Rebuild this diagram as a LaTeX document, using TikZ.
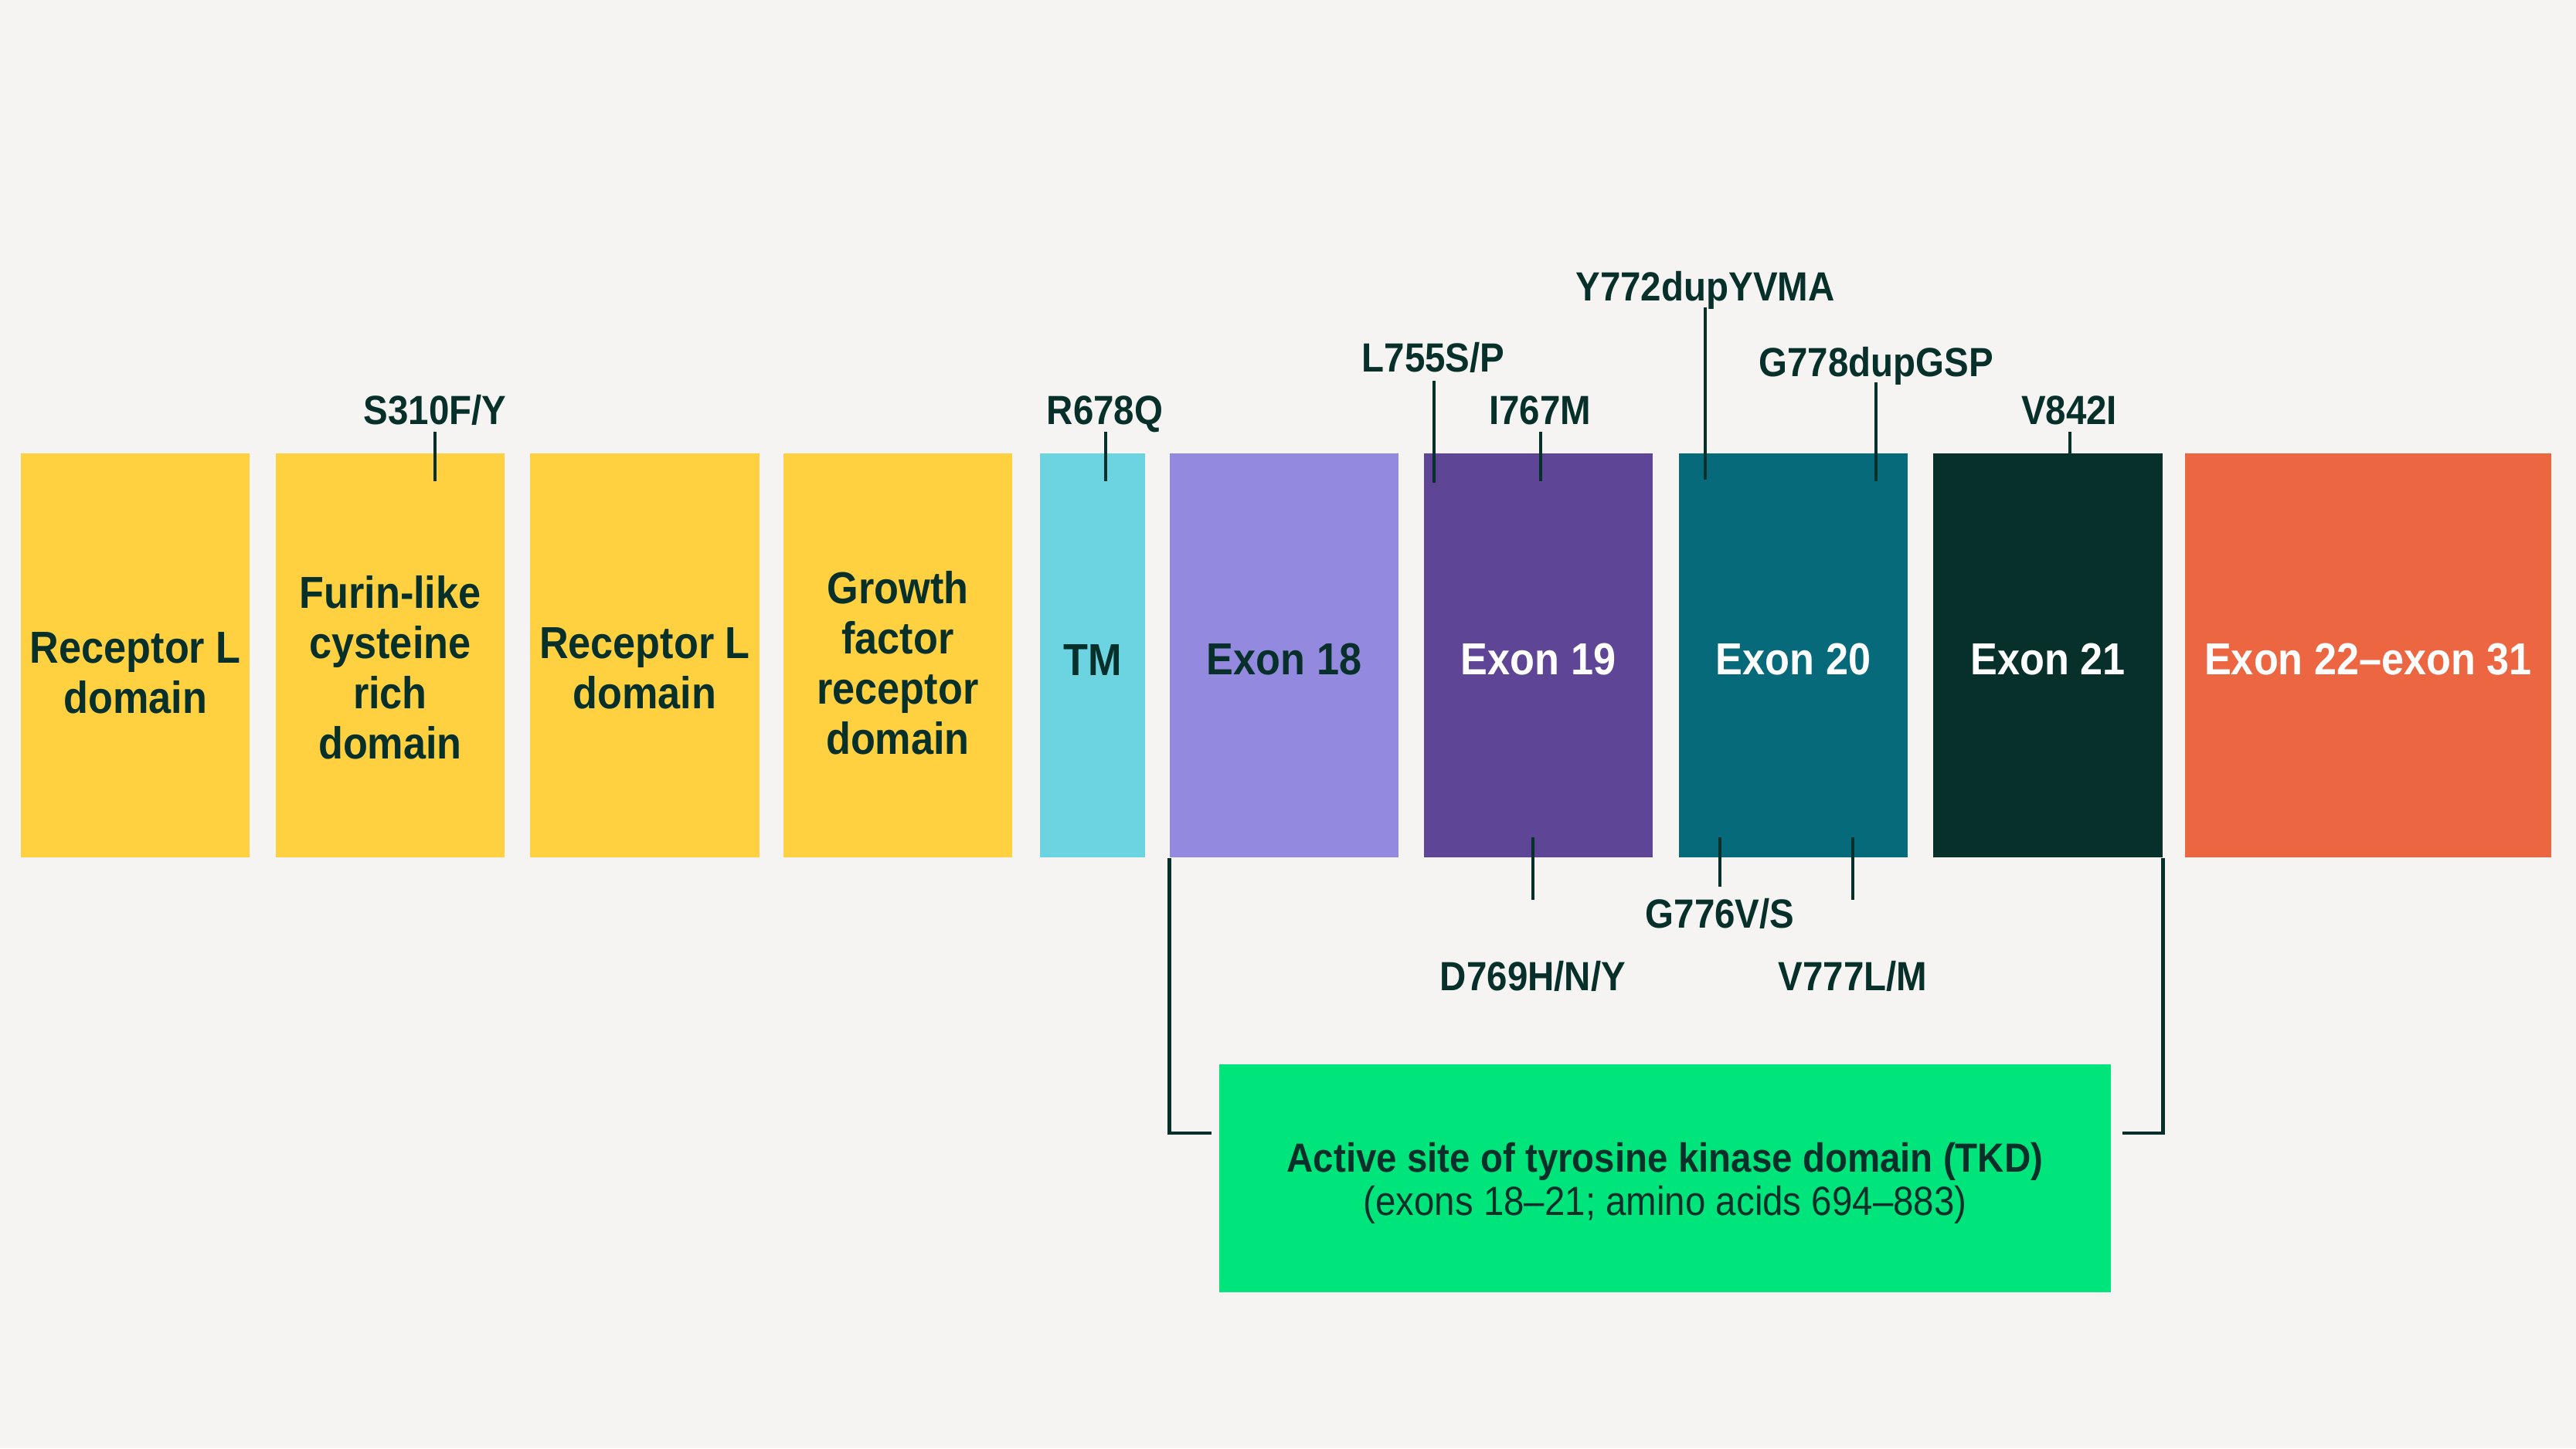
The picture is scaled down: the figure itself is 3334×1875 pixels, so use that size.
\documentclass[tikz,border=0pt]{standalone}
\usepackage{fontspec}
\setmainfont{Liberation Sans}[FakeStretch=0.9]
\definecolor{bg}{HTML}{F5F4F2}
\definecolor{ink}{HTML}{08302A}
\definecolor{ylw}{HTML}{FFD03F}
\definecolor{tmc}{HTML}{6CD3E0}
\definecolor{exa}{HTML}{938ADF}
\definecolor{exb}{HTML}{5E4595}
\definecolor{exc}{HTML}{076A7B}
\definecolor{exd}{HTML}{08302A}
\definecolor{exe}{HTML}{EC6642}
\definecolor{tkdc}{HTML}{00E47C}
\begin{document}
\begin{tikzpicture}[x=0.01cm, y=-0.01cm,
  dom/.style={fill=#1, draw=none, minimum height=5.23cm, inner sep=0pt},
  wide/.style={minimum width=2.96cm},
  domtext/.style={inner sep=0pt, align=center,
    font=\bfseries\fontsize{16.5}{18.5}\selectfont, text=ink},
  whitetext/.style={text=white},
  lab/.style={font=\bfseries\fontsize{15}{17}\selectfont, text=ink, inner sep=0pt, anchor=base},
  tick/.style={draw=ink, line width=1.3pt},
]
\fill[bg] (0,0) rectangle (3334,1875);
\useasboundingbox (0,0) rectangle (3334,1875);

% domain boxes
\node[dom=ylw, wide] (b1) at (175.3,848.5) {};
\node[dom=ylw, wide] (b2) at (505,848.5) {};
\node[dom=ylw, wide] (b3) at (834.5,848.5) {};
\node[dom=ylw, wide] (b4) at (1162,848.5) {};
\node[dom=tmc, minimum width=1.36cm] (tm) at (1414,848.5) {};
\node[dom=exa, wide] (e18) at (1662,848.5) {};
\node[dom=exb, wide] (e19) at (1991,848.5) {};
\node[dom=exc, wide] (e20) at (2321,848.5) {};
\node[dom=exd, wide] (e21) at (2650.5,848.5) {};
\node[dom=exe, minimum width=4.74cm] (e22) at (3065,848.5) {};

% domain texts
\node[domtext] (b1t) at ([yshift=-0.23cm]b1.center) {Receptor L\\domain};
\node[domtext] (b2t) at ([yshift=-0.16cm]b2.center) {Furin-like\\cysteine\\rich\\domain};
\node[domtext] (b3t) at ([yshift=-0.17cm]b3.center) {Receptor L\\domain};
\node[domtext] (b4t) at ([yshift=-0.10cm]b4.center) {Growth\\factor\\receptor\\domain};
\node[domtext] (tmt) at ([yshift=-0.06cm]tm.center) {TM};
\node[domtext] (e18t) at ([yshift=-0.05cm]e18.center) {Exon 18};
\node[domtext, whitetext] (e19t) at ([yshift=-0.05cm]e19.center) {Exon 19};
\node[domtext, whitetext] (e20t) at ([yshift=-0.05cm]e20.center) {Exon 20};
\node[domtext, whitetext] (e21t) at ([yshift=-0.05cm]e21.center) {Exon 21};
\node[domtext, whitetext] (e22t) at ([yshift=-0.05cm]e22.center) {Exon 22–exon 31};

% TKD box
\node[fill=tkdc, draw=none, minimum width=11.54cm, minimum height=2.95cm, inner sep=0pt] (tkd) at (2155,1525.5) {};
\node[align=center, inner sep=0pt, text=ink, font=\fontsize{15}{16}\selectfont] (tkdt)
  at ([yshift=-0.06cm]tkd.center)
  {\textbf{Active site of tyrosine kinase domain (TKD)}\\(exons 18–21; amino acids 694–883)};

% bracket
\coordinate (bl) at (1568,1467);
\coordinate (br) at (2747,1467);
\draw[tick] (e18.south west) |- (bl);
\draw[tick] (e21.south east) |- (br);

% upper mutation labels
\node[lab] (m1) at (563,549) {S310F/Y};
\coordinate (m1a) at (563,559); \coordinate (m1b) at (563,623);
\draw[tick] (m1a) -- (m1b);

\node[lab] (m2) at (1430,549) {R678Q};
\coordinate (m2a) at (1431,559); \coordinate (m2b) at (1431,623);
\draw[tick] (m2a) -- (m2b);

\node[lab] (m3) at (1855,481) {L755S/P};
\coordinate (m3a) at (1856,493); \coordinate (m3b) at (1856,625);
\draw[tick] (m3a) -- (m3b);

\node[lab] (m4) at (1993,549) {I767M};
\coordinate (m4a) at (1994,559); \coordinate (m4b) at (1994,623);
\draw[tick] (m4a) -- (m4b);

\node[lab] (m5) at (2207,389) {Y772dupYVMA};
\coordinate (m5a) at (2207,398); \coordinate (m5b) at (2207,621);
\draw[tick] (m5a) -- (m5b);

\node[lab] (m6) at (2428,487) {G778dupGSP};
\coordinate (m6a) at (2428,495); \coordinate (m6b) at (2428,623);
\draw[tick] (m6a) -- (m6b);

\node[lab] (m7) at (2678,549) {V842I};
\coordinate (m7a) at (2679,559); \coordinate (m7b) at (2679,623);
\draw[tick] (m7a) -- (m7b);

% lower mutation labels
\node[lab] (m8) at (1984,1282) {D769H/N/Y};
\coordinate (m8a) at (1984,1084); \coordinate (m8b) at (1984,1165);
\draw[tick] (m8a) -- (m8b);

\node[lab] (m9) at (2226,1201) {G776V/S};
\coordinate (m9a) at (2226,1084); \coordinate (m9b) at (2226,1148);
\draw[tick] (m9a) -- (m9b);

\node[lab] (m10) at (2398,1282) {V777L/M};
\coordinate (m10a) at (2398,1084); \coordinate (m10b) at (2398,1165);
\draw[tick] (m10a) -- (m10b);
\end{tikzpicture}
\end{document}
